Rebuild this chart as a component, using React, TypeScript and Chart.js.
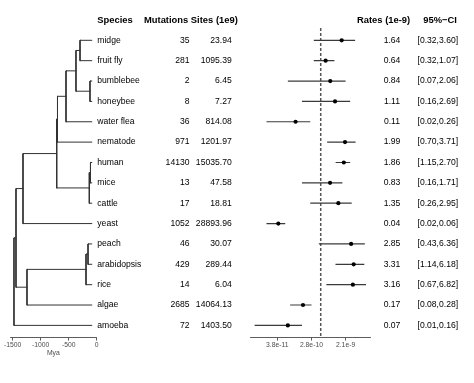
import { useEffect, useRef } from 'react';
import { Chart, registerables } from 'chart.js';

Chart.register(...registerables);

// ---------- data ----------
const species = ['midge', 'fruit fly', 'bumblebee', 'honeybee', 'water flea', 'nematode', 'human', 'mice', 'cattle', 'yeast', 'peach', 'arabidopsis', 'rice', 'algae', 'amoeba'];
const mutations = [35, 281, 2, 8, 36, 971, 14130, 13, 17, 1052, 46, 429, 14, 2685, 72];
const sites = [23.94, 1095.39, 6.45, 7.27, 814.08, 1201.97, 15035.7, 47.58, 18.81, 28893.96, 30.07, 289.44, 6.04, 14064.13, 1403.5];
const rates = [1.64, 0.64, 0.84, 1.11, 0.11, 1.99, 1.86, 0.83, 1.35, 0.04, 2.85, 3.31, 3.16, 0.17, 0.07];
const ciLow = [0.32, 0.32, 0.07, 0.16, 0.02, 0.70, 1.15, 0.16, 0.26, 0.02, 0.43, 1.14, 0.67, 0.08, 0.01];
const ciHigh = [3.60, 1.07, 2.06, 2.69, 0.26, 3.71, 2.70, 1.71, 2.95, 0.06, 6.36, 6.18, 6.82, 0.28, 0.16];
const pooledRate = 0.48; // dashed reference line (1e-9)
const rateTickLn = [-24, -22, -20]; // natural-log tick positions

// tree (ages in Mya)
const tipAge = -89;
const nodeIds = ['n1', 'n2', 'n3', 'n4', 'n5', 'n6', 'n7', 'n8', 'n9', 'n10', 'n11', 'n12', 'n13', 'n14'];
const nodeAges = [-298, -120, -370, -548, -700, -111, -132, -714, -1316, -155, -191, -1245, -1441, -1477];
const nodeChildren = [
  ['midge', 'fruit fly'],
  ['bumblebee', 'honeybee'],
  ['n1', 'n2'],
  ['n3', 'water flea'],
  ['n4', 'nematode'],
  ['human', 'mice'],
  ['n6', 'cattle'],
  ['n5', 'n7'],
  ['n8', 'yeast'],
  ['peach', 'arabidopsis'],
  ['n10', 'rice'],
  ['n11', 'algae'],
  ['n9', 'n12'],
  ['n13', 'amoeba'],
];
const treeTicks = [-1500, -1000, -500, 0];

const FONT = '"Liberation Sans", Arial, Helvetica, sans-serif';

export default function App() {
  const treeRef = useRef<HTMLCanvasElement>(null);
  const forestRef = useRef<HTMLCanvasElement>(null);

  useEffect(() => {
    // ---- tree geometry from data ----
    const yOf: Record<string, number> = {};
    const ageOf: Record<string, number> = {};
    species.forEach((s, i) => { yOf[s] = i; ageOf[s] = tipAge; });
    nodeIds.forEach((id, k) => {
      const [a, b] = nodeChildren[k];
      yOf[id] = (yOf[a] + yOf[b]) / 2;
      ageOf[id] = nodeAges[k];
    });
    const segs: { x: number; y: number }[][] = [];
    nodeIds.forEach((id, k) => {
      const age = nodeAges[k];
      const [a, b] = nodeChildren[k];
      segs.push([{ x: age, y: yOf[a] }, { x: age, y: yOf[b] }]);
      [a, b].forEach((c) => segs.push([{ x: age, y: yOf[c] }, { x: ageOf[c], y: yOf[c] }]));
    });

    const axisHeight = 19.2;
    const padBottom = 383 - 337.6 - axisHeight;
    const yScale = { type: 'linear' as const, reverse: true, min: -1, max: 14.6, display: false };

    const treeChart = new Chart(treeRef.current!, {
      type: 'scatter',
      data: {
        datasets: segs.map((s) => ({
          data: s,
          showLine: true,
          borderColor: '#333333',
          borderWidth: 1,
          pointRadius: 0,
          borderCapStyle: 'square' as const,
        })),
      },
      options: {
        responsive: false,
        animation: false,
        layout: { padding: { left: 10, right: 474 - 96.7, top: 19.94, bottom: padBottom } },
        plugins: { legend: { display: false }, tooltip: { enabled: false } },
        scales: {
          x: {
            type: 'linear',
            min: -1548,
            max: 0,
            afterBuildTicks: (s: any) => { s.ticks = treeTicks.map((v) => ({ value: v })); },
            afterFit: (s: any) => { s.height = axisHeight; },
            grid: { display: true, drawOnChartArea: false, drawTicks: true, tickLength: 3, color: '#333333', lineWidth: 0.8 },
            border: { display: true, color: '#333333', width: 0.8 },
            ticks: { padding: 0, color: '#4d4d4d', font: { family: FONT, size: 6.8 }, maxRotation: 0, autoSkip: false, callback: (v: any) => String(v) },
            title: { display: true, text: 'Mya', color: '#4d4d4d', font: { family: FONT, size: 6.8 }, padding: { top: 1, bottom: 0 } },
          },
          y: yScale,
        },
      },
    });

    // ---- forest plot ----
    const ln = (r: number) => Math.log(r * 1e-9);
    const tablePlugin = {
      id: 'table',
      afterDraw(chart: any) {
        const ctx = chart.ctx as CanvasRenderingContext2D;
        const y = chart.scales.y;
        ctx.save();
        ctx.fillStyle = '#000';
        ctx.textBaseline = 'middle';
        const hy = y.getPixelForValue(-1);
        ctx.font = `bold 9.4px ${FONT}`;
        ctx.textAlign = 'left';
        ctx.fillText('Species', 97.3, hy);
        ctx.fillText('Mutations Sites (1e9)', 144, hy);
        ctx.fillText('Rates (1e-9)', 357, hy);
        ctx.fillText('95%\u2212CI', 423.3, hy);
        ctx.font = `8.6px ${FONT}`;
        species.forEach((s, i) => {
          const py = y.getPixelForValue(i);
          ctx.textAlign = 'left';
          ctx.fillText(s, 97.3, py);
          ctx.textAlign = 'right';
          ctx.fillText(String(mutations[i]), 189.5, py);
          ctx.fillText(sites[i].toFixed(2), 231.7, py);
          ctx.textAlign = 'center';
          ctx.fillText(rates[i].toFixed(2), 392, py);
          ctx.fillText(`[${ciLow[i].toFixed(2)},${ciHigh[i].toFixed(2)}]`, 437.8, py);
        });
        ctx.restore();
      },
    };

    const forestChart = new Chart(forestRef.current!, {
      type: 'scatter',
      data: {
        datasets: [
          {
            data: rates.map((r, i) => ({ x: ln(r), y: i })),
            pointRadius: 2.1,
            pointBackgroundColor: '#000',
            pointBorderWidth: 0,
            showLine: false,
          },
          ...rates.map((_, i) => ({
            data: [{ x: ln(ciLow[i]), y: i }, { x: ln(ciHigh[i]), y: i }],
            showLine: true,
            borderColor: '#3a3a3a',
            borderWidth: 1.2,
            pointRadius: 0,
          })),
          {
            data: [{ x: ln(pooledRate), y: -0.6 }, { x: ln(pooledRate), y: 14.6 }],
            showLine: true,
            borderColor: '#555555',
            borderWidth: 1.5,
            borderDash: [3, 2],
            pointRadius: 0,
          },
        ],
      },
      options: {
        responsive: false,
        animation: false,
        layout: { padding: { left: 250, right: 104, top: 19.94, bottom: padBottom } },
        plugins: { legend: { display: false }, tooltip: { enabled: false } },
        scales: {
          x: {
            type: 'linear',
            min: -25.6,
            max: -18.57,
            afterBuildTicks: (s: any) => { s.ticks = rateTickLn.map((v) => ({ value: v })); },
            afterFit: (s: any) => { s.height = axisHeight; },
            grid: { display: true, drawOnChartArea: false, drawTicks: true, tickLength: 3, color: '#333333', lineWidth: 0.8 },
            border: { display: true, color: '#333333', width: 0.8 },
            ticks: {
              padding: 0, color: '#4d4d4d', font: { family: FONT, size: 6.8 }, maxRotation: 0, autoSkip: false,
              callback: (v: any) => Math.exp(Number(v)).toExponential(1),
            },
          },
          y: yScale,
        },
      },
      plugins: [tablePlugin],
    });

    return () => {
      treeChart.destroy();
      forestChart.destroy();
    };
  }, []);

  return (
    <div style={{ position: 'absolute', left: 0, top: 0, width: 474, height: 383, background: '#fff' }}>
      <canvas ref={treeRef} width={474} height={383} style={{ position: 'absolute', left: 0, top: 0 }} />
      <canvas ref={forestRef} width={474} height={383} style={{ position: 'absolute', left: 0, top: 0 }} />
    </div>
  );
}
